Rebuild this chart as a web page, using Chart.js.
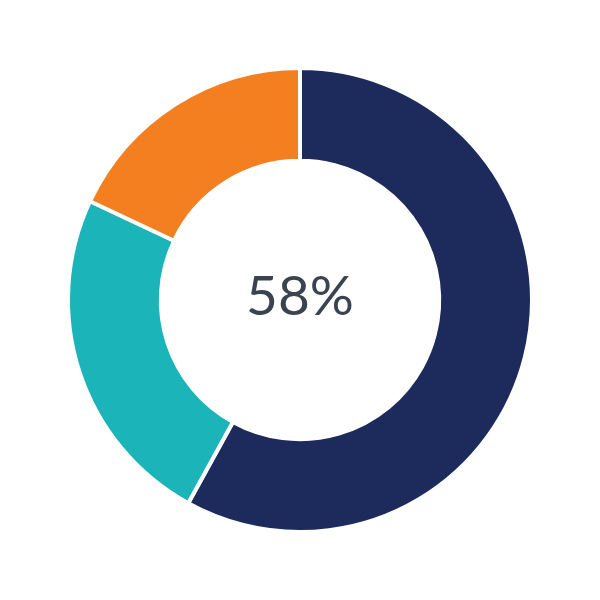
<!DOCTYPE html>
<html>
<head>
<meta charset="utf-8">
<script src="https://cdn.jsdelivr.net/npm/chart.js@4"></script>
<style>
  html, body { margin: 0; padding: 0; background: #fff; }
  #wrap { width: 600px; height: 600px; }
</style>
</head>
<body>
<div id="wrap"><canvas id="myDoughnutChart"></canvas></div>
<script>
const labels = ['Navy', 'Teal', 'Orange'];
const values = [58, 24, 18];
const colors = ['#1c2b5b', '#1bb4b8', '#f47f20'];
const centerLabel = '58%';

const centerText = {
    id: 'centerText',
    afterDraw(chart) {
        const ctx = chart.ctx;
        const meta = chart.getDatasetMeta(0).data[0];
        ctx.save();
        ctx.font = '400 55px Lato';
        ctx.fillStyle = '#3b4350';
        ctx.textAlign = 'center';
        ctx.textBaseline = 'middle';
        ctx.fillText(centerLabel, meta.x, meta.y - 3);
        ctx.restore();
    }
};

const ctx = document.getElementById('myDoughnutChart').getContext('2d');
new Chart(ctx, {
    type: 'doughnut',
    data: {
        labels: labels,
        datasets: [{
            data: values,
            backgroundColor: colors,
            borderColor: '#ffffff',
            borderWidth: 4
        }]
    },
    options: {
        responsive: true,
        maintainAspectRatio: false,
        animation: false,
        cutout: '60%',
        layout: { padding: 66 },
        plugins: {
            legend: { display: false },
            tooltip: { enabled: false }
        }
    },
    plugins: [centerText]
});
</script>
</body>
</html>
